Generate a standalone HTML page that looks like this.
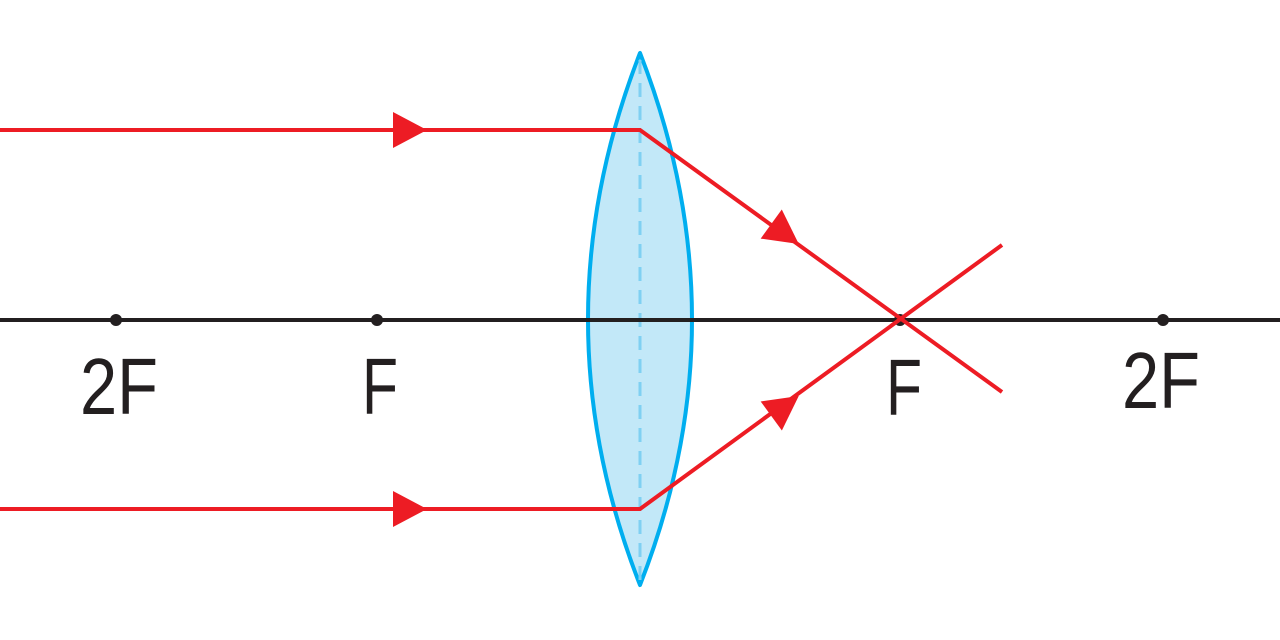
<!DOCTYPE html>
<html><head><style>html,body{margin:0;padding:0;background:#fff;}svg{display:block}</style></head>
<body>
<svg width="1280" height="640" viewBox="0 0 1280 640" xmlns="http://www.w3.org/2000/svg">
<rect width="1280" height="640" fill="#fff"/>
<path d="M640,53 Q536,320 640,585 Q744,320 640,53 Z" fill="#c2e8f8" stroke="#00aeef" stroke-width="4" stroke-linejoin="round"/>
<line x1="640" y1="60" x2="640" y2="580" stroke="#7fd0f2" stroke-width="3" stroke-dasharray="14,9"/>
<line x1="0" y1="320" x2="1280" y2="320" stroke="#231f20" stroke-width="4"/>
<g fill="#231f20">
<circle cx="116" cy="320" r="6"/><circle cx="377" cy="320" r="6"/><circle cx="900" cy="320" r="6"/><circle cx="1163" cy="320" r="6"/>
</g>
<g font-family="Liberation Sans, sans-serif" font-size="80" fill="#231f20">
<text x="80" y="414" textLength="78" lengthAdjust="spacingAndGlyphs">2F</text>
<text x="362" y="414" textLength="36" lengthAdjust="spacingAndGlyphs">F</text>
<text x="886" y="415" textLength="36" lengthAdjust="spacingAndGlyphs">F</text>
<text x="1122" y="408" textLength="78" lengthAdjust="spacingAndGlyphs">2F</text>
</g>
<g stroke="#ed1c24" stroke-width="4" fill="none">
<polyline points="0,130 640,130 1002,392"/>
<polyline points="0,509 640,509 1002,245"/>
</g>
<g fill="#ed1c24">
<polygon points="393,112 427,130 393,148"/>
<polygon points="393,491 427,509 393,527"/>
<polygon points="-17,-18 17,0 -17,18" transform="translate(785,234) rotate(35.9)"/>
<polygon points="-17,-18 17,0 -17,18" transform="translate(785,406) rotate(-36.1)"/>
</g>
</svg>
</body></html>
